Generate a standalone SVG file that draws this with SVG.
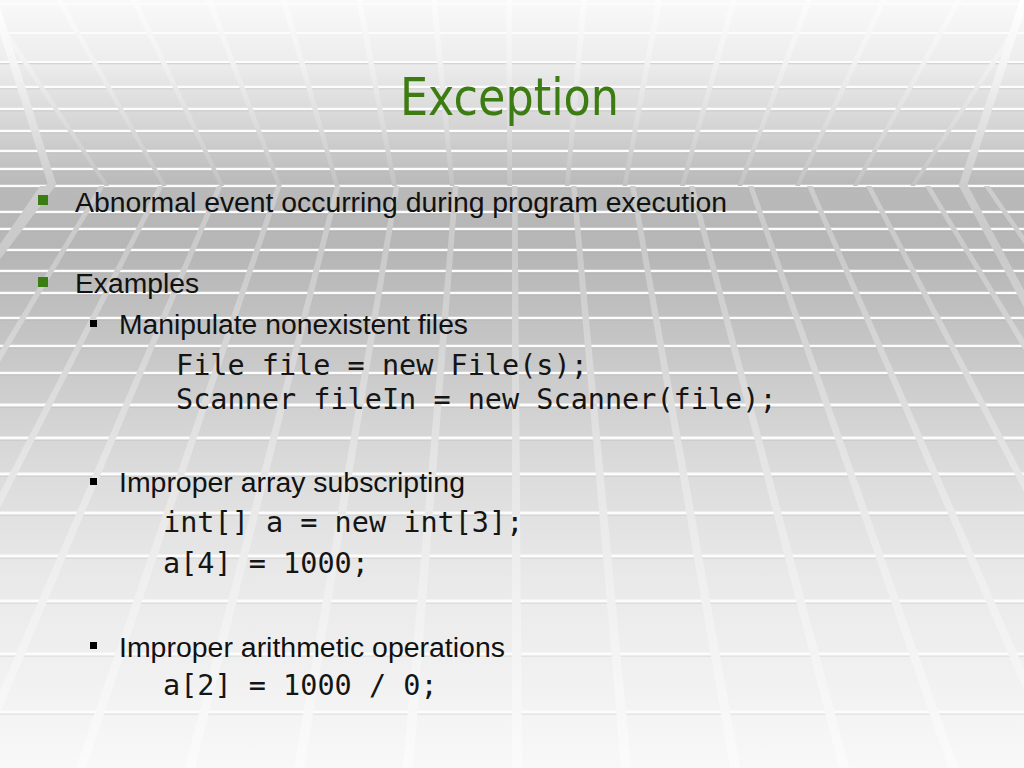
<svg xmlns="http://www.w3.org/2000/svg" width="1024" height="768" viewBox="0 0 1024 768">
  <defs>
    <linearGradient id="bg" gradientUnits="userSpaceOnUse" x1="0" y1="0" x2="0" y2="768">
      <stop offset="0" stop-color="#f9f9f9"/>
      <stop offset="0.08" stop-color="#ededed"/>
      <stop offset="0.16" stop-color="#d6d6d6"/>
      <stop offset="0.24" stop-color="#b9b9b9"/>
      <stop offset="0.33" stop-color="#b6b6b6"/>
      <stop offset="0.45" stop-color="#c6c6c6"/>
      <stop offset="0.6" stop-color="#dadada"/>
      <stop offset="0.75" stop-color="#e9e9e9"/>
      <stop offset="1" stop-color="#f8f8f8"/>
    </linearGradient>
    <linearGradient id="cband" gradientUnits="userSpaceOnUse" x1="0" y1="0" x2="0" y2="768">
      <stop offset="0" stop-color="#fcfcfc"/>
      <stop offset="0.08" stop-color="#f2f2f2"/>
      <stop offset="0.16" stop-color="#dddddd"/>
      <stop offset="0.24" stop-color="#c3c3c3"/>
      <stop offset="1" stop-color="#c3c3c3"/>
    </linearGradient>
    <linearGradient id="band" gradientUnits="userSpaceOnUse" x1="0" y1="0" x2="0" y2="768">
      <stop offset="0" stop-color="#ffffff"/>
      <stop offset="0.08" stop-color="#f5f5f5"/>
      <stop offset="0.16" stop-color="#e2e2e2"/>
      <stop offset="0.24" stop-color="#cdcdcd"/>
      <stop offset="0.33" stop-color="#cacaca"/>
      <stop offset="0.45" stop-color="#d6d6d6"/>
      <stop offset="0.6" stop-color="#e5e5e5"/>
      <stop offset="0.75" stop-color="#efefef"/>
      <stop offset="1" stop-color="#fbfbfb"/>
    </linearGradient>
    <clipPath id="ceil"><rect x="0" y="0" width="1024" height="186"/></clipPath>
    <clipPath id="floor"><rect x="0" y="186" width="1024" height="582"/></clipPath>
    <style>
      .hl { stroke: #fcfcfc; stroke-width: 2.5; }
      .hs { stroke: #8a8a8a; stroke-opacity: 0.25; stroke-width: 1.2; }
      .cb { fill: url(#cband); }
      .bd { fill: url(#band); }
      .arm { stroke: url(#band); stroke-width: 8; fill: none; stroke-linejoin: miter; }
      .title { font-family: "DejaVu Sans Condensed", "DejaVu Sans", Verdana, sans-serif; font-size: 52px; fill: #3d7c12; }
      .txt { font-family: "Liberation Sans", Arial, sans-serif; font-size: 27px; fill: #111111; }
      .code { font-family: "DejaVu Sans Mono", "Liberation Mono", monospace; font-size: 28.5px; fill: #151515; }
      .b1 { fill: #3a7d12; }
      .b2 { fill: #000000; }
    </style>
  </defs>

  <g id="background">
    <rect x="0" y="0" width="1024" height="768" fill="url(#bg)"/>
    <g id="hlines">
      <g class="hs">
        <line x1="0" y1="63.6" x2="1024" y2="63.6"/>
        <line x1="0" y1="88.6" x2="1024" y2="88.6"/>
        <line x1="0" y1="110.6" x2="1024" y2="110.6"/>
        <line x1="0" y1="132.6" x2="1024" y2="132.6"/>
        <line x1="0" y1="152.6" x2="1024" y2="152.6"/>
        <line x1="0" y1="170.6" x2="1024" y2="170.6"/>
        <line x1="0" y1="187.6" x2="1024" y2="187.6"/>
        <line x1="0" y1="213.6" x2="1024" y2="213.6"/>
        <line x1="0" y1="230.6" x2="1024" y2="230.6"/>
        <line x1="0" y1="251.6" x2="1024" y2="251.6"/>
        <line x1="0" y1="272.6" x2="1024" y2="272.6"/>
        <line x1="0" y1="294.6" x2="1024" y2="294.6"/>
        <line x1="0" y1="319.6" x2="1024" y2="319.6"/>
        <line x1="0" y1="347.6" x2="1024" y2="347.6"/>
        <line x1="0" y1="374.6" x2="1024" y2="374.6"/>
        <line x1="0" y1="406.8" x2="1024" y2="406.8"/>
        <line x1="0" y1="439.8" x2="1024" y2="439.8"/>
        <line x1="0" y1="475.8" x2="1024" y2="475.8"/>
        <line x1="0" y1="514.8" x2="1024" y2="514.8"/>
        <line x1="0" y1="557.8" x2="1024" y2="557.8"/>
        <line x1="0" y1="602.8" x2="1024" y2="602.8"/>
        <line x1="0" y1="655.8" x2="1024" y2="655.8"/>
        <line x1="0" y1="713.8" x2="1024" y2="713.8"/>
      </g>
      <g class="hl">
        <line x1="0" y1="4" x2="1024" y2="4" stroke-width="2"/>
        <line x1="0" y1="33" x2="1024" y2="33" stroke-width="2"/>
        <line x1="0" y1="62" x2="1024" y2="62" stroke-width="2"/>
        <line x1="0" y1="87" x2="1024" y2="87"/>
        <line x1="0" y1="109" x2="1024" y2="109"/>
        <line x1="0" y1="131" x2="1024" y2="131"/>
        <line x1="0" y1="151" x2="1024" y2="151"/>
        <line x1="0" y1="169" x2="1024" y2="169"/>
        <line x1="0" y1="186" x2="1024" y2="186"/>
        <line x1="0" y1="212" x2="1024" y2="212"/>
        <line x1="0" y1="229" x2="1024" y2="229"/>
        <line x1="0" y1="250" x2="1024" y2="250"/>
        <line x1="0" y1="271" x2="1024" y2="271"/>
        <line x1="0" y1="293" x2="1024" y2="293"/>
        <line x1="0" y1="318" x2="1024" y2="318"/>
        <line x1="0" y1="346" x2="1024" y2="346"/>
        <line x1="0" y1="373" x2="1024" y2="373"/>
        <line x1="0" y1="405" x2="1024" y2="405" stroke-width="3"/>
        <line x1="0" y1="438" x2="1024" y2="438" stroke-width="3"/>
        <line x1="0" y1="474" x2="1024" y2="474" stroke-width="3"/>
        <line x1="0" y1="513" x2="1024" y2="513" stroke-width="3"/>
        <line x1="0" y1="556" x2="1024" y2="556" stroke-width="3"/>
        <line x1="0" y1="601" x2="1024" y2="601" stroke-width="3"/>
        <line x1="0" y1="654" x2="1024" y2="654" stroke-width="3"/>
        <line x1="0" y1="712" x2="1024" y2="712" stroke-width="3"/>
      </g>
    </g>

    <g id="ceiling-bands" class="cb" clip-path="url(#ceil)">
      <polygon points="512,800 -19,0 -13,0"/>
      <polygon points="512,800 56,0 62,0"/>
      <polygon points="512,800 131,0 137,0"/>
      <polygon points="512,800 206,0 212,0"/>
      <polygon points="512,800 281,0 287,0"/>
      <polygon points="512,800 356,0 362,0"/>
      <polygon points="512,800 431,0 437,0"/>
      <polygon points="512,800 506,0 512,0"/>
      <polygon points="512,800 581,0 587,0"/>
      <polygon points="512,800 656,0 662,0"/>
      <polygon points="512,800 731,0 737,0"/>
      <polygon points="512,800 806,0 812,0"/>
      <polygon points="512,800 881,0 887,0"/>
      <polygon points="512,800 956,0 962,0"/>
      <polygon points="512,800 1031,0 1037,0"/>
    </g>

    <g id="floor-bands" class="bd" clip-path="url(#floor)">
      <polygon points="512,-500 -360.3,768 -350.3,768"/>
      <polygon points="512,-500 -251.2,768 -241.2,768"/>
      <polygon points="512,-500 -142.2,768 -132.2,768"/>
      <polygon points="512,-500 -33.2,768 -23.2,768"/>
      <polygon points="512,-500 75.9,768 85.9,768"/>
      <polygon points="512,-500 184.9,768 194.9,768"/>
      <polygon points="512,-500 294,768 304,768"/>
      <polygon points="512,-500 403,768 413,768"/>
      <polygon points="512,-500 512.1,768 522.1,768"/>
      <polygon points="512,-500 621.2,768 631.2,768"/>
      <polygon points="512,-500 730.2,768 740.2,768"/>
      <polygon points="512,-500 839.3,768 849.3,768"/>
      <polygon points="512,-500 948.3,768 958.3,768"/>
      <polygon points="512,-500 1057.4,768 1067.4,768"/>
      <polygon points="512,-500 1166.4,768 1176.4,768"/>
      <polygon points="512,-500 1275.5,768 1285.5,768"/>
      <polygon points="512,-500 1384.5,768 1394.5,768"/>
    </g>

    <g id="chevrons">
      <polyline class="arm" points="-4,8 52,184 -4,258"/>
      <polyline class="arm" points="1026,-6 963,185 1030,310"/>
    </g>
  </g>

  <g id="title">
    <text class="title" x="400" y="115" textLength="219" lengthAdjust="spacingAndGlyphs">Exception</text>
  </g>

  <g id="bullet-abnormal">
    <rect class="b1" x="38" y="195" width="10" height="10"/>
    <text class="txt" x="75" y="212" textLength="652" lengthAdjust="spacingAndGlyphs">Abnormal event occurring during program execution</text>
  </g>

  <g id="bullet-examples">
    <rect class="b1" x="38" y="277" width="10" height="10"/>
    <text class="txt" x="75" y="293" textLength="124" lengthAdjust="spacingAndGlyphs">Examples</text>
  </g>

  <g id="sub-files">
    <rect class="b2" x="90" y="320" width="7" height="7"/>
    <text class="txt" x="119" y="334" textLength="349" lengthAdjust="spacingAndGlyphs">Manipulate nonexistent files</text>
    <text class="code" x="176" y="375">File file = new File(s);</text>
    <text class="code" x="176" y="409">Scanner fileIn = new Scanner(file);</text>
  </g>

  <g id="sub-array">
    <rect class="b2" x="90" y="478" width="7" height="7"/>
    <text class="txt" x="119" y="492" textLength="346" lengthAdjust="spacingAndGlyphs">Improper array subscripting</text>
    <text class="code" x="163" y="532">int[] a = new int[3];</text>
    <text class="code" x="163" y="573">a[4] = 1000;</text>
  </g>

  <g id="sub-arith">
    <rect class="b2" x="90" y="642" width="7" height="7"/>
    <text class="txt" x="119" y="657" textLength="386" lengthAdjust="spacingAndGlyphs">Improper arithmetic operations</text>
    <text class="code" x="163" y="695">a[2] = 1000 / 0;</text>
  </g>
</svg>
